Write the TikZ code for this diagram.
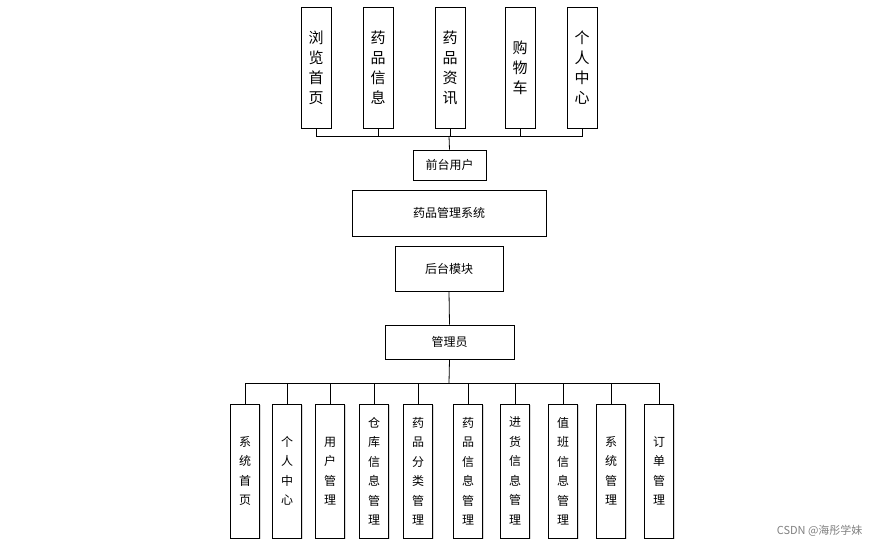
\documentclass[tikz,border=0pt]{standalone}
\usepackage{fontspec}
\setmainfont{Noto Sans CJK SC}
\newfontfamily\cjkserif{Noto Sans CJK SC}
\tikzset{
  box/.style    = {shape=rectangle, draw, thick, fill=white, inner sep=0pt,
                   drop shadow={shadow xshift=1pt, shadow yshift=-1pt, opacity=0.3}},
  topbox/.style = {box, minimum width=30pt, minimum height=121pt,
                   align=center, font=\fontsize{15}{20}\selectfont},
  lowbox/.style = {box, minimum width=29pt, minimum height=134pt,
                   align=center, font=\fontsize{12}{19.5}\selectfont},
  midbox/.style = {box, font=\fontsize{12}{14}\selectfont},
  link/.style   = {draw, thick}
}
\usetikzlibrary{shadows}
\begin{document}
\begin{tikzpicture}[x=1pt, y=-1pt]
  \useasboundingbox (0,0) rectangle (881,549);
  % front end
  \node [topbox] (browse) at (316,67.5) {浏\\览\\首\\页};
  \node [topbox] (info)   at (378,67.5) {药\\品\\信\\息};
  \node [topbox] (news)   at (450,67.5) {药\\品\\资\\讯};
  \node [topbox] (cart)   at (520,67.5) {购\\物\\车};
  \node [topbox] (mine)   at (582,67.5) {个\\人\\中\\心};
  \node [midbox, minimum width=73pt, minimum height=30pt] (front) at (449.5,165) {前台用户};
  \node [midbox, minimum width=194pt, minimum height=46pt] (sys) at (449,213) {药品管理系统};
  \node [midbox, minimum width=108pt, minimum height=45pt] (back) at (449,268.5) {后台模块};
  \node [midbox, minimum width=129pt, minimum height=34pt] (admin) at (449.5,342) {管理员};
  % back end
  \node [lowbox] (home)  at (245,471) {系\\统\\首\\页};
  \node [lowbox] (me)    at (287,471) {个\\人\\中\\心};
  \node [lowbox] (user)  at (330,471) {用\\户\\管\\理};
  \node [lowbox] (store) at (374,471) {仓\\库\\信\\息\\管\\理};
  \node [lowbox] (kind)  at (418,471) {药\\品\\分\\类\\管\\理};
  \node [lowbox] (drug)  at (468,471) {药\\品\\信\\息\\管\\理};
  \node [lowbox] (stock) at (515,471) {进\\货\\信\\息\\管\\理};
  \node [lowbox] (duty)  at (563,471) {值\\班\\信\\息\\管\\理};
  \node [lowbox] (sset)  at (611,471) {系\\统\\管\\理};
  \node [lowbox] (order) at (659,471) {订\\单\\管\\理};
  \coordinate (topbus) at (449,136);
  \coordinate (lowbus) at (449,383);
  % connectors
  \foreach \n in {browse,info,news,cart,mine}
    \path [link] (\n.south) |- (topbus);
  \path [link] (topbus) -- (front.north);
  \path [link] (back.south) -- (admin.north);
  \path [link] (admin.south) -- (lowbus);
  \foreach \n in {home,me,user,store,kind,drug,stock,duty,sset,order}
    \path [link] (\n.north) |- (lowbus);
  \node [text=gray, font=\fontsize{11}{13}\selectfont, anchor=east] (mark) at (866,531) {CSDN @海彤学妹};
\end{tikzpicture}
\end{document}
